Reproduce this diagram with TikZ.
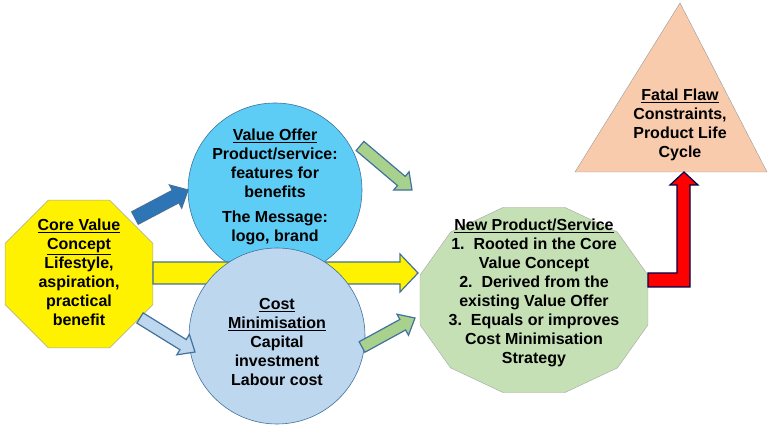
\documentclass[tikz,border=0pt]{standalone}
\usepackage{fontspec}
\setmainfont{Liberation Sans}
\usetikzlibrary{calc,shapes.geometric}
\definecolor{cyanb}{HTML}{5DCDF5}
\definecolor{lblue}{HTML}{BDD7EE}
\definecolor{lgreen}{HTML}{C5E0B4}
\definecolor{mgreen}{HTML}{A9D18E}
\definecolor{peach}{HTML}{F8CBAD}
\definecolor{steel}{HTML}{2E75B6}
\definecolor{edge}{HTML}{41719C}
\newcommand\fatarrow[6]{%
 \path (#1) coordinate (fa-s) (#2) coordinate (fa-e);
 \coordinate (fa-b) at ($(fa-e)!#5!(fa-s)$);
 \filldraw[#6] ($(fa-s)!#3!90:(fa-e)$) -- ($(fa-b)!#3!-90:(fa-s)$) -- ($(fa-b)!#4!-90:(fa-s)$) -- (fa-e) -- ($(fa-b)!#4!90:(fa-s)$) -- ($(fa-b)!#3!90:(fa-s)$) -- ($(fa-s)!#3!-90:(fa-e)$) -- cycle;}
\tikzset{txt/.style={font=\bfseries\fontsize{16}{19}\selectfont, align=center, text=black},
 arr/.style={draw=edge, line width=1.2pt, line join=miter}}
\begin{document}
\begin{tikzpicture}[x=1pt,y=-1pt]
\useasboundingbox (0,0) rectangle (768,427);
% core value octagon
\node[regular polygon, regular polygon sides=8, minimum size=160pt, fill=yellow, draw=gray!70, inner sep=0pt] (core) at (79,274) {};
\node[txt] (coret) at (79,272) {\underline{Core Value}\\\underline{Concept}\\Lifestyle,\\aspiration,\\practical\\benefit};
% value offer circle
\node[circle, minimum size=174pt, fill=cyanb, draw=edge, line width=0.6pt] (vo) at (275,190) {};
% yellow arrow
\coordinate (ys) at (153,273); \coordinate (ye) at (418,273);
\fatarrow{ys}{ye}{11pt}{19pt}{18pt}{fill=yellow,arr}
% cost circle
\node[circle, minimum size=176pt, fill=lblue, draw=edge, line width=0.6pt] (cm) at (277,336) {};
% new product dodecagon
\filldraw[fill=lgreen, draw=gray!70] plot[samples at={15,45,...,345}] ({534+118*cos(\x)},{300+96*sin(\x)}) -- cycle;
\coordinate (np) at (534,300);
% triangle
\filldraw[fill=peach, draw=gray!80] (680,3) coordinate (tt) -- (767,172) -- (575,172) -- cycle;
\coordinate (ff) at (680,125);
% texts
\node[txt] (vot) at (275,187) {\underline{Value Offer}\\Product/service:\\features for\\benefits\\[6pt]The Message:\\logo, brand};
\node[txt] (cmt) at (277,342) {\underline{Cost}\\\underline{Minimisation}\\Capital\\investment\\Labour cost};
\node[txt] (npt) at (534,293) {\underline{New Product/Service}\\1.\ \ Rooted in the Core\\Value Concept\\2.\ \ Derived from the\\existing Value Offer\\3.\ \ Equals or improves\\Cost Minimisation\\Strategy};
\node[txt] (fft) at (680,125) {\underline{Fatal Flaw}\\Constraints,\\Product Life\\Cycle};
% small arrows
\coordinate (a1s) at (135,218); \coordinate (a1e) at (188,190);
\fatarrow{a1s}{a1e}{7pt}{13pt}{14pt}{fill=steel,arr}
\coordinate (a2s) at (140,318); \coordinate (a2e) at (195,352);
\fatarrow{a2s}{a2e}{6pt}{12pt}{14pt}{fill=lblue,arr}
\coordinate (a3s) at (360,146); \coordinate (a3e) at (412,190);
\fatarrow{a3s}{a3e}{6pt}{12pt}{14pt}{fill=mgreen,arr}
\coordinate (a4s) at (362,347); \coordinate (a4e) at (415,318);
\fatarrow{a4s}{a4e}{6pt}{12pt}{14pt}{fill=mgreen,arr}
% red elbow arrow
\filldraw[fill=red, draw=black!70!blue, line width=1.2pt] (648,273) -- (677,273) -- (677,185) -- (670,185) -- (684,172) -- (698,185) -- (690,185) -- (690,287) -- (648,287) -- cycle;
\end{tikzpicture}
\end{document}
